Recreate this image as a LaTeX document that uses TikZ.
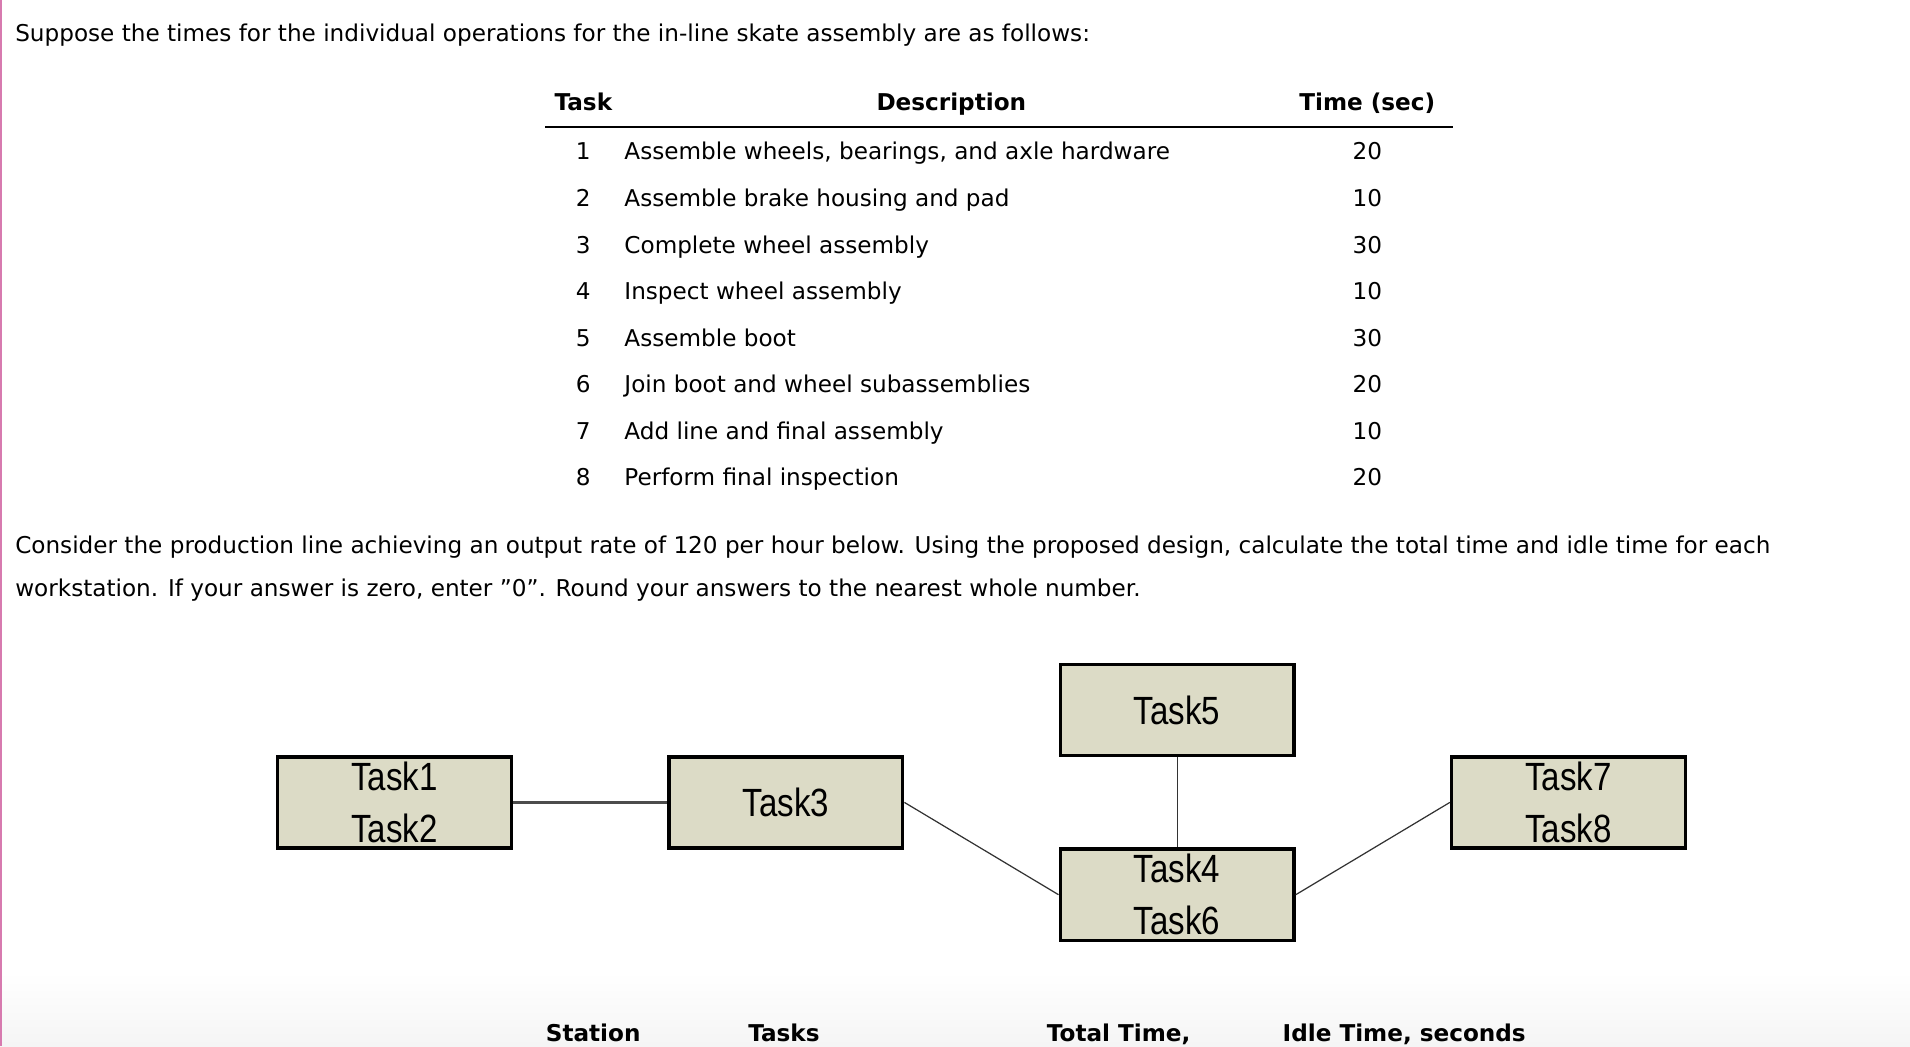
\documentclass[tikz,border=0pt]{standalone}
\usepackage{fontspec}
\setmainfont{DejaVu Sans}
\newfontfamily\boxfont{Liberation Sans}
\usepackage{graphicx}
\definecolor{boxfill}{HTML}{DCDBC6}
\newcommand{\tk}[1]{\scalebox{0.84}[1]{#1}}
\begin{document}
\begin{tikzpicture}[x=0.5pt,y=-0.5pt,
  txt/.style={inner sep=0,font=\fontsize{9.4}{11}\selectfont},
  hd/.style={txt,font=\fontsize{9.4}{11}\selectfont\bfseries},
  task/.style={draw=black,line width=1.4pt,fill=boxfill,minimum width=95pt,minimum height=37pt,inner sep=0,align=center,font=\boxfont\fontsize{16}{19}\selectfont},
  conn/.style={draw=black!80,line width=0.5pt}]
\useasboundingbox (0,0) rectangle (1552,850);
\fill[white] (0,0) rectangle (1552,850);
\shade[top color=white,bottom color=black!4] (0,790) rectangle (1552,850);
\draw[color=magenta!50!violet!60,line width=1pt] (1,0) -- (1,850);
\node[txt,anchor=base west] (intro) at (12,34) {Suppose the times for the individual operations for the in-line skate assembly are as follows:};
\node[hd,anchor=base] (h1) at (474,90) {Task};
\node[hd,anchor=base] (h2) at (773,90) {Description};
\node[hd,anchor=base] (h3) at (1111,90) {Time (sec)};
\draw[line width=0.8pt] (443,103) -- (1181,103);
\foreach \n/\d/\t [count=\i from 0] in {1/{Assemble wheels, bearings, and axle hardware}/20,2/Assemble brake housing and pad/10,3/Complete wheel assembly/30,4/Inspect wheel assembly/10,5/Assemble boot/30,6/Join boot and wheel subassemblies/20,7/Add line and final assembly/10,8/Perform final inspection/20}{
  \node[txt,anchor=base] (n\n) at (474,130+37.8*\i) {\n};
  \node[txt,anchor=base west] (d\n) at (507,130+37.8*\i) {\d};
  \node[txt,anchor=base] (t\n) at (1111,130+37.8*\i) {\t};
}
\node[txt,anchor=base west] (p1) at (12,450) {Consider the production line achieving an output rate of 120 per hour below. Using the proposed design, calculate the total time and idle time for each};
\node[txt,anchor=base west] (p2) at (12,485) {workstation. If your answer is zero, enter "0". Round your answers to the nearest whole number.};
\node[task] (a) at (320.5,652) {\tk{Task1}\\[2pt]\tk{Task2}};
\node[task] (b) at (638.5,652) {\tk{Task3}};
\node[task] (c) at (956.5,577) {\tk{Task5}};
\node[task] (d) at (956.5,727) {\tk{Task4}\\[2pt]\tk{Task6}};
\node[task] (e) at (1274.5,652) {\tk{Task7}\\[2pt]\tk{Task8}};
\draw[draw=black!70,line width=1.1pt] (a.east) -- (b.east-|b.west);
\draw[conn] (b.east) -- (d.west);
\draw[conn] (c.south) -- (d.north);
\draw[conn] (d.east) -- (e.west);
\node[hd,anchor=base] (s1) at (482,846) {Station};
\node[hd,anchor=base] (s2) at (637,846) {Tasks};
\node[hd,anchor=base] (s3) at (909,846) {Total Time,};
\node[hd,anchor=base] (s4) at (1141,846) {Idle Time, seconds};
\end{tikzpicture}
\end{document}
